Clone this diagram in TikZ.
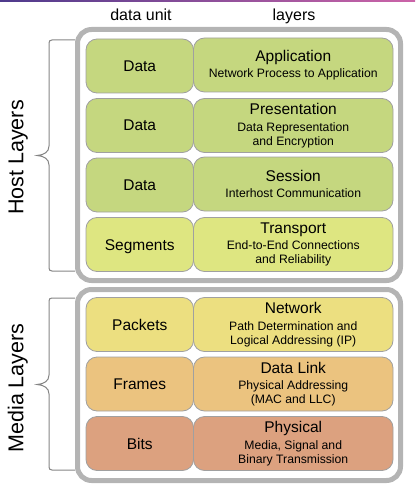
\documentclass[tikz,border=0pt]{standalone}
\usepackage{fontspec}
\setmainfont{Liberation Sans}
\definecolor{datagreen}{HTML}{C5D77F}
\definecolor{seggreen}{HTML}{DEE681}
\definecolor{pktyellow}{HTML}{ECDF80}
\definecolor{frmorange}{HTML}{EBC37F}
\definecolor{bitred}{HTML}{DCA17F}
\definecolor{cellgray}{HTML}{A0A0A0}
\definecolor{boxgray}{HTML}{B4B4B4}
\definecolor{brgray}{HTML}{858585}
\definecolor{topviolet}{HTML}{4E3A8C}
\definecolor{toppink}{HTML}{CC64A8}
\newcommand{\lyrtitle}[1]{{\fontsize{15.5}{17}\selectfont #1}\\[2.5pt]}
\begin{document}
\begin{tikzpicture}[x=1pt,y=-1pt,
  unitbox/.style={shape=rectangle,rounded corners=11pt,draw=cellgray,line width=0.8pt,inner sep=0pt,
    minimum width=107.5pt,minimum height=54pt,text height=11pt,text depth=0pt,font=\fontsize{15.5}{17}\selectfont},
  layerbox/.style={shape=rectangle,rounded corners=11pt,draw=cellgray,line width=0.8pt,inner sep=0pt,
    minimum width=199.5pt,minimum height=54pt,align=center,font=\fontsize{12.2}{14}\selectfont},
  outerbox/.style={draw=boxgray,line width=5pt,rounded corners=14pt},
  bracket/.style={draw=brgray,line width=1pt},
  head/.style={anchor=base,font=\fontsize{16}{18}\selectfont},
  side/.style={anchor=base,rotate=90,font=\fontsize{21.5}{24}\selectfont}]
\useasboundingbox (0,0) rectangle (415,489);
\shade[left color=topviolet,right color=toppink] (0,0) rectangle (415,1.3);
% headers
\node (hunit) at (141,20.5) [head] {data unit};
\node (hlayer) at (294,20.5) [head] {layers};
% outer frames
\draw[outerbox] (77.5,29.5) rectangle (400.5,280.5);
\draw[outerbox] (77.5,289.5) rectangle (400.5,480.5);
% host layers
\node (u1) at (139.75,66) [unitbox,fill=datagreen] {Data};
\node (l1) at (293.25,65) [layerbox,fill=datagreen] {\lyrtitle{Application}Network Process to Application};
\node (u2) at (139.75,125.5) [unitbox,fill=datagreen] {Data};
\node (l2) at (293.25,125.5) [layerbox,fill=datagreen] {\lyrtitle{Presentation}Data Representation\\and Encryption};
\node (u3) at (139.75,185) [unitbox,fill=datagreen] {Data};
\node (l3) at (293.25,184) [layerbox,fill=datagreen] {\lyrtitle{Session}Interhost Communication};
\node (u4) at (139.75,244.5) [unitbox,fill=seggreen] {Segments};
\node (l4) at (293.25,244.5) [layerbox,fill=seggreen] {\lyrtitle{Transport}End-to-End Connections\\and Reliability};
% media layers
\node (u5) at (139.75,324.5) [unitbox,fill=pktyellow] {Packets};
\node (l5) at (293.25,324.5) [layerbox,fill=pktyellow] {\lyrtitle{Network}Path Determination and\\Logical Addressing (IP)};
\node (u6) at (139.75,384) [unitbox,fill=frmorange] {Frames};
\node (l6) at (293.25,384) [layerbox,fill=frmorange] {\lyrtitle{Data Link}Physical Addressing\\(MAC and LLC)};
\node (u7) at (139.75,443.5) [unitbox,fill=bitred] {Bits};
\node (l7) at (293.25,443.5) [layerbox,fill=bitred] {\lyrtitle{Physical}Media, Signal and\\Binary Transmission};
% brackets and side labels
\draw[bracket] (75,40) -- (52,40) .. controls (50,40) and (49,41) .. (49,43) -- (49,146)
  .. controls (49,152) and (44,155) .. (37,155.5) .. controls (44,156) and (49,159) .. (49,165)
  -- (49,268) .. controls (49,270) and (50,271) .. (52,271) -- (75,271);
\draw[bracket] (75,298) -- (52,298) .. controls (50,298) and (49,299) .. (49,301) -- (49,375)
  .. controls (49,381) and (44,384) .. (37,384.5) .. controls (44,385) and (49,388) .. (49,394)
  -- (49,467) .. controls (49,469) and (50,470) .. (52,470) -- (75,470);
\node (hostlbl) at (23.3,157.5) [side] {Host Layers};
\node (medialbl) at (23.3,388) [side] {Media Layers};
\end{tikzpicture}
\end{document}
